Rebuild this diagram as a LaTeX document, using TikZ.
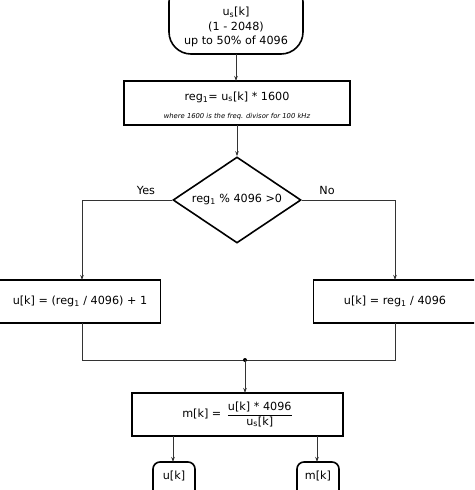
\documentclass[tikz,border=0pt]{standalone}
\usepackage{fontspec}
\usepackage{amsmath}
\setmainfont{DejaVu Sans}
\usetikzlibrary{shapes.geometric,arrows.meta}
\begin{document}
\begin{tikzpicture}[x=1pt,y=-1pt,
  every node/.style={font=\fontsize{11.2}{13}\selectfont},
  boxst/.style={draw=black,line width=1.6pt,rectangle,inner sep=0pt},
  conn/.style={draw=black!80,line width=0.8pt},
  arr/.style={conn,-{Stealth[length=5pt,width=3.5pt]}}]
\useasboundingbox (0,0) rectangle (474,490);
\clip (0,0) rectangle (474,490);
% start terminal
\node[boxst,rounded corners=22pt,minimum width=134pt,minimum height=74pt] (start) at (236,17) {};
\node[align=center,font=\fontsize{11.2}{14.5}\selectfont] (starttxt) at (236,27) {u\textsubscript{s}[k]\\(1 - 2048)\\up to 50\% of 4096};
% reg box
\node[boxst,minimum width=226pt,minimum height=44pt] (reg) at (237,103) {};
\node (regtxt) at (237,97) {reg\textsubscript{1}= u\textsubscript{s}[k] * 1600};
\node[font=\fontsize{6.8}{8}\itshape] (regnote) at (237,117) {where 1600 is the freq. divisor for 100 kHz};
% diamond
\node[diamond,draw=black,line width=1.6pt,inner sep=0pt,aspect=1.5,minimum width=128pt,minimum height=86pt] (dec) at (237,200) {reg\textsubscript{1} \% 4096 >0};
% branch boxes
\node[boxst,minimum width=168pt,minimum height=43pt] (left) at (76.5,301.5) {};
\node (lefttxt) at (80,301.5) {u[k] = (reg\textsubscript{1} / 4096) + 1};
\node[boxst,minimum width=168pt,minimum height=43pt] (right) at (397.5,301.5) {};
\node (righttxt) at (395,301.5) {u[k] = reg\textsubscript{1} / 4096};
% m box
\node[boxst,minimum width=211pt,minimum height=43pt] (mbox) at (237.5,414.5) {m[k] = \,$\dfrac{\text{u[k] * 4096}}{\text{u\textsubscript{s}[k]}}$};
% outputs
\node[boxst,rounded corners=7pt,minimum width=42pt,minimum height=40pt] (outu) at (174,482) {};
\node (oututxt) at (174,476) {u[k]};
\node[boxst,rounded corners=7pt,minimum width=42pt,minimum height=40pt] (outm) at (318,482) {};
\node (outmtxt) at (318,476) {m[k]};
% labels
\node (yes) at (146,190) {Yes};
\node (no) at (327,190) {No};
% coordinates
\coordinate (lb) at (82,280);
\coordinate (rb) at (395,280);
\coordinate (lbb) at (82,323);
\coordinate (rbb) at (395,323);
\coordinate (junc) at (245,360);
% connectors
\draw[arr] (236,54) -- (236,81);
\draw[arr] (237,125) -- (dec.north);
\draw[arr] (dec.west) -- (82,200) -- (lb);
\draw[arr] (dec.east) -- (395,200) -- (rb);
\draw[conn] (lbb) -- (82,360) -- (395,360) -- (rbb);
\fill[black] (junc) circle (2pt);
\draw[arr] (junc) -- (245,393);
\draw[arr] (173,436) -- (173,462);
\draw[arr] (317,436) -- (317,462);
\end{tikzpicture}
\end{document}
